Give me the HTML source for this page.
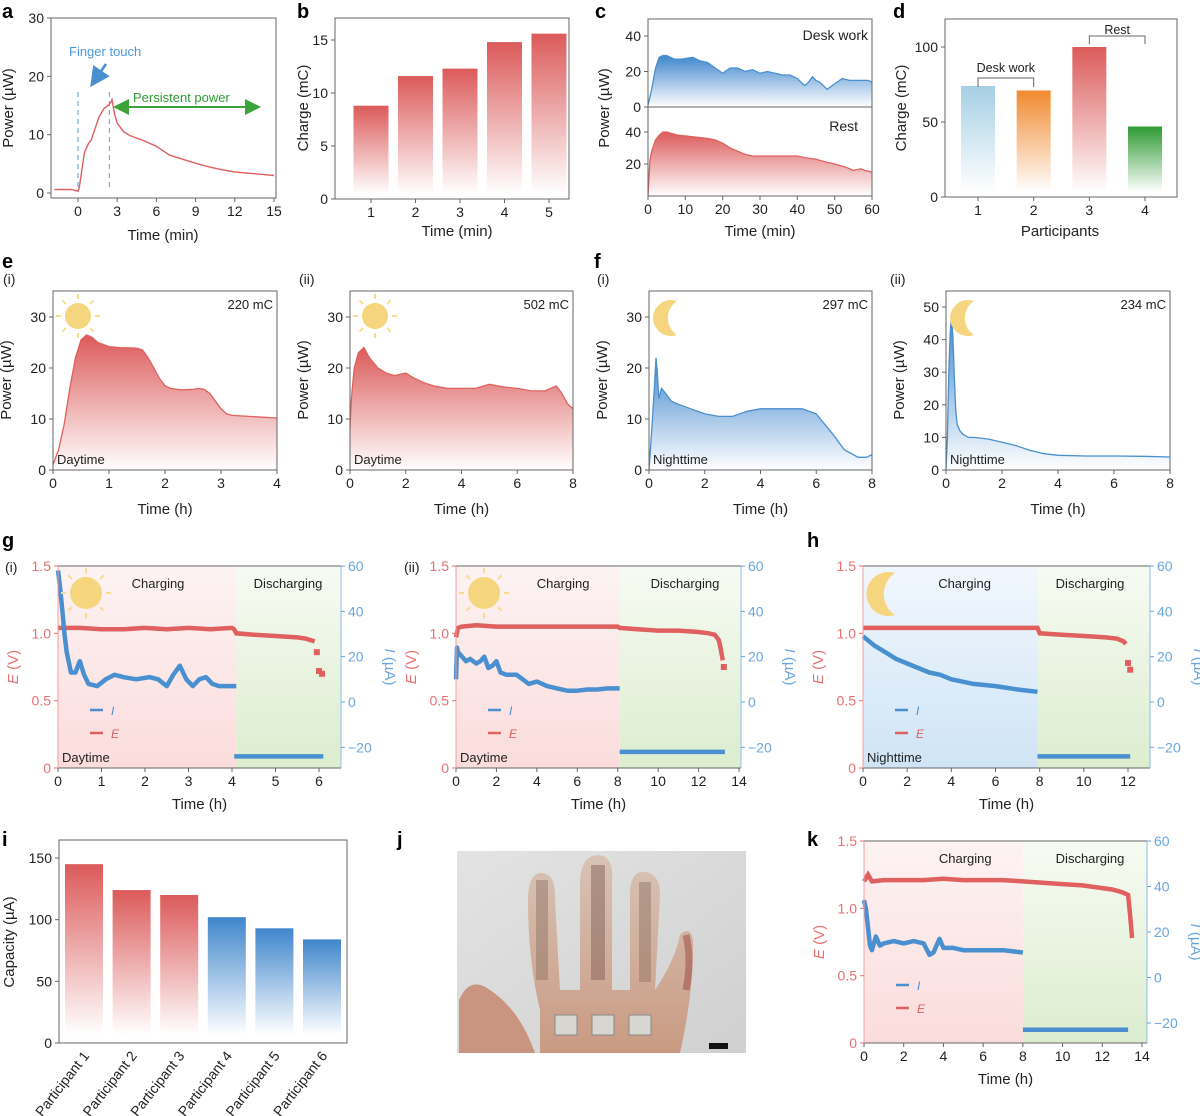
<!DOCTYPE html>
<html><head><meta charset="utf-8">
<style>
html,body{margin:0;padding:0;background:#fff;}
svg{display:block;font-family:"Liberation Sans",sans-serif;}
</style></head>
<body>
<svg id="fig" xmlns="http://www.w3.org/2000/svg" width="1200" height="1116" viewBox="0 0 1200 1116">
<defs>
<linearGradient id="gRed" x1="0" y1="0" x2="0" y2="1"><stop offset="0" stop-color="#dc5a5a"/><stop offset="1" stop-color="#dc5a5a" stop-opacity="0"/></linearGradient>
<linearGradient id="gBlue" x1="0" y1="0" x2="0" y2="1"><stop offset="0" stop-color="#3f86cc"/><stop offset="1" stop-color="#3f86cc" stop-opacity="0"/></linearGradient>
<linearGradient id="gLBlue" x1="0" y1="0" x2="0" y2="1"><stop offset="0" stop-color="#a6cfe5"/><stop offset="1" stop-color="#a6cfe5" stop-opacity="0"/></linearGradient>
<linearGradient id="gOrange" x1="0" y1="0" x2="0" y2="1"><stop offset="0" stop-color="#f08a30"/><stop offset="1" stop-color="#f08a30" stop-opacity="0"/></linearGradient>
<linearGradient id="gGreen" x1="0" y1="0" x2="0" y2="1"><stop offset="0" stop-color="#2f9a34"/><stop offset="1" stop-color="#2f9a34" stop-opacity="0"/></linearGradient>
<linearGradient id="shPink" x1="0" y1="0" x2="0" y2="1"><stop offset="0" stop-color="#fdf3f3"/><stop offset="1" stop-color="#fbdcdc"/></linearGradient>
<linearGradient id="shGreen" x1="0" y1="0" x2="0" y2="1"><stop offset="0" stop-color="#f7fbf3"/><stop offset="1" stop-color="#dcedcf"/></linearGradient>
<linearGradient id="shBlue" x1="0" y1="0" x2="0" y2="1"><stop offset="0" stop-color="#f1f7fd"/><stop offset="1" stop-color="#cfe4f6"/></linearGradient>
<linearGradient id="photoBg" x1="0" y1="0" x2="1" y2="1"><stop offset="0" stop-color="#e2e3e2"/><stop offset="1" stop-color="#cfd0cf"/></linearGradient>
<linearGradient id="skin" x1="0" y1="0" x2="0" y2="1"><stop offset="0" stop-color="#d8c3b6"/><stop offset="1" stop-color="#c99a82"/></linearGradient>
<marker id="arrG" markerWidth="8" markerHeight="8" refX="6" refY="4" orient="auto-start-reverse"><path d="M0,0 L8,4 L0,8 Z" fill="#3aa33a"/></marker>
<marker id="arrB" markerWidth="8" markerHeight="8" refX="6" refY="4" orient="auto"><path d="M0,0 L8,4 L0,8 Z" fill="#4a90d0"/></marker>
</defs>
</svg>
<script>
// ---------- data ----------
const aTime=[-1.8,-0.5,0,0.1,0.3,0.5,0.8,1,1.3,1.6,2,2.3,2.5,2.6,2.8,3,3.5,4,5,6,7,8,9,10,11,12,13,14,15];
const aPower=[0.6,0.6,0.3,1,4,7,8.5,9,11,13,14.5,15,15.5,16,13.5,12,10.5,9.8,9,8,6.5,5.8,5.1,4.5,4,3.6,3.4,3.2,3.0];
const bCats=[1,2,3,4,5];
const bCharge=[8.8,11.6,12.3,14.8,15.6];
const cTimeDesk=[0,1,2,3,4,5,7,9,12,14,16,18,20,22,24,26,28,30,32,34,36,38,40,42,43,44,45,46,48,50,52,54,56,58,59,60];
const cPowerDesk=[1,10,22,28,29,29,27,27,28,26,25,22,19,22,22,20,21,19,20,19,18,18,16,12,14,17,15,14,10,13,16,15,15,15,15,14];
const cTimeRest=[0,0.5,1,2,3,4,5,8,12,16,18,20,22,24,26,28,30,35,40,42,45,48,50,53,55,57,58,60];
const cPowerRest=[0,22,28,35,38,40,40,38,37,36,35,33,30,28,26,25,25,25,25,24,23,21,20,18,16,17,16,15];
const dCats=[1,2,3,4];
const dCharge=[74,71,100,47];
const e1Time=[0,0.1,0.2,0.3,0.4,0.5,0.6,0.7,0.8,1,1.2,1.5,1.6,1.7,1.8,1.9,2,2.1,2.3,2.5,2.6,2.7,2.8,2.9,3,3.1,3.2,3.5,4];
const e1Power=[1,4,9,16,22,25.5,26.5,26,25,24.2,24,23.9,23.5,22,20,18,16.5,16,15.7,15.8,16,15.8,15,13.5,12,11,10.7,10.5,10.2];
const e2Time=[0,0.05,0.15,0.3,0.5,0.7,1,1.3,1.6,2,2.3,2.7,3,3.5,4,4.5,5,5.5,6,6.5,7,7.2,7.4,7.6,7.8,8];
const e2Power=[8,14,20,23,24,22,20,19,18.5,19,18,17,16.5,16,16,16,16.8,16.3,16,15.5,15.5,16,16.5,15,13,12];
const f1Time=[0,0.1,0.2,0.25,0.3,0.35,0.45,0.6,0.8,1,1.5,2,2.5,3,3.5,4,5,5.5,6,6.3,6.6,7,7.5,7.8,8];
const f1Power=[0,8,17,22,19,14,16,15,13.5,13,12,11,10.5,10.5,11.5,12,12,12,11,9,7,4,2.5,2.5,3];
const f2Time=[0,0.05,0.1,0.15,0.2,0.25,0.3,0.35,0.4,0.5,0.6,0.8,1,1.5,2,2.5,3,3.5,4,5,6,7,8];
const f2Power=[0,10,30,42,48,40,28,18,14,12,11,10,10,9.5,8.5,7.5,6,5,4.5,4.3,4.3,4.2,4];
const g1ETime=[0,0.5,1,1.5,2,2.5,3,3.5,4,4.05,4.1,4.5,5,5.5,5.7,5.9];
const g1E=[1.04,1.04,1.03,1.03,1.04,1.03,1.04,1.03,1.04,1.03,1.0,0.99,0.98,0.97,0.96,0.94];
const g1EDotTime=[5.95,6.0,6.07];
const g1EDot=[0.86,0.72,0.70];
const g1ITime=[0,0.05,0.1,0.15,0.2,0.3,0.4,0.5,0.6,0.7,0.9,1.1,1.3,1.5,1.8,2.1,2.3,2.5,2.65,2.8,2.95,3.1,3.25,3.4,3.55,3.7,4,4.1];
const g1I=[58,50,40,30,22,13,13,18,12,8,7,10,12,11,10,11,10,7,12,16,10,7,10,11,8,7,7,7];
const g1DisTime=[4.05,6.1];
const g1DisI=[-24,-24];
const g2ETime=[0,0.1,0.3,1,2,3,4,5,6,7,8,8.1,9,10,11,12,12.5,12.8,13,13.1,13.2];
const g2E=[0.97,1.04,1.05,1.06,1.05,1.05,1.05,1.05,1.05,1.05,1.05,1.04,1.03,1.02,1.02,1.01,1.0,0.99,0.95,0.88,0.8];
const g2EDotTime=[13.25];
const g2EDot=[0.75];
const g2ITime=[0,0.05,0.1,0.3,0.5,0.7,1,1.2,1.4,1.6,1.8,2,2.2,2.5,3,3.3,3.6,4,4.5,5,5.5,6,6.5,7,7.5,8.1];
const g2I=[10,24,22,20,18,19,17,18,20,15,16,18,13,12,12,10,8,9,7,6,5,5,5.5,5.5,6,6];
const g2DisTime=[8.1,13.3];
const g2DisI=[-22,-22];
const hETime=[0,1,2,3,4,5,6,7,7.9,8,9,10,11,11.5,11.8,11.9];
const hE=[1.04,1.04,1.04,1.04,1.04,1.04,1.04,1.04,1.04,1.0,0.99,0.98,0.97,0.96,0.94,0.92];
const hEDotTime=[12,12.1];
const hEDot=[0.78,0.73];
const hITime=[0,0.5,1,1.5,2,2.5,3,3.5,4,5,6,7,7.9];
const hI=[29,25,22,19,17,15,13,12,10,8,7,5.5,4.5];
const hDisTime=[7.9,12.1];
const hDisI=[-24,-24];
const kETime=[0,0.2,0.4,1,2,3,4,5,6,7,8,9,10,11,12,12.5,13,13.3,13.4,13.5];
const kE=[1.2,1.25,1.2,1.21,1.21,1.21,1.22,1.21,1.21,1.21,1.2,1.19,1.18,1.17,1.15,1.14,1.12,1.1,0.95,0.78];
const kITime=[0,0.1,0.2,0.3,0.4,0.6,0.8,1,1.5,2,2.5,3,3.3,3.5,3.8,4,4.5,5,6,7,8];
const kI=[34,30,22,14,12,18,14,15,16,15,16,15,10,11,17,13,13,12,12,12,11];
const kDisTime=[8,13.3];
const kDisI=[-23,-23];
const iCats=["Participant 1","Participant 2","Participant 3","Participant 4","Participant 5","Participant 6"];
const iCapacity=[145,124,120,102,93,84];

// ---------- helpers ----------
const NS='http://www.w3.org/2000/svg';
const svg=document.getElementById('fig');
function mk(tag,attrs,name,parent){
  const e=document.createElementNS(NS,tag);
  for(const k in attrs) e.setAttribute(k,attrs[k]);
  
  
  (parent||svg).appendChild(e);
  return e;
}
function lin(v0,p0,v1,p1){const k=(p1-p0)/(v1-v0);return v=>p0+(v-v0)*k;}
function T(x,y,s,o,name){
  o=o||{};
  const a={x:x,y:y,'font-size':o.size||14,fill:o.fill||'#222','text-anchor':o.anchor||'start'};
  if(o.weight)a['font-weight']=o.weight;
  if(o.style)a['font-style']=o.style;
  if(o.rot!==undefined)a.transform='rotate('+o.rot+' '+x+' '+y+')';
  const e=mk('text',a,name);
  e.textContent=s;
  return e;
}
function box(L,Tp,R,B,name,stroke){
  return mk('rect',{x:L,y:Tp,width:R-L,height:B-Tp,fill:'none',stroke:stroke||'#666','stroke-width':1},name);
}
function xTicks(vals,sx,B,labels,name,col){
  vals.forEach((v,i)=>{
    mk('line',{x1:sx(v),x2:sx(v),y1:B,y2:B+4,stroke:'#666'},name+'-tick');
    T(sx(v),B+18,labels?labels[i]:String(v),{anchor:'middle',fill:col||'#222'},name+'-label');
  });
}
function yTicks(vals,sy,L,labels,name,col){
  vals.forEach((v,i)=>{
    mk('line',{x1:L-4,x2:L,y1:sy(v),y2:sy(v),stroke:col||'#666'},name+'-tick');
    T(L-7,sy(v)+5,labels?labels[i]:String(v),{anchor:'end',fill:col||'#222'},name+'-label');
  });
}
function yTicksR(vals,sy,R,labels,name,col){
  vals.forEach((v,i)=>{
    mk('line',{x1:R,x2:R+4,y1:sy(v),y2:sy(v),stroke:col},name+'-tick');
    T(R+7,sy(v)+5,labels?labels[i]:String(v),{anchor:'start',fill:col},name+'-label');
  });
}
function linePath(xs,ys,sx,sy){return xs.map((x,i)=>(i?'L':'M')+sx(x).toFixed(1)+','+sy(ys[i]).toFixed(1)).join(' ');}
function area(xs,ys,sx,sy,fill,stroke,name){
  const d=linePath(xs,ys,sx,sy)+' L'+sx(xs[xs.length-1])+','+sy(0)+' L'+sx(xs[0])+','+sy(0)+' Z';
  mk('path',{d:d,fill:fill,stroke:'none'},name+'-area');
  mk('path',{d:linePath(xs,ys,sx,sy),fill:'none',stroke:stroke,'stroke-width':1.3},name+'-line');
}
function sun(cx,cy,r,name){
  const g=mk('g',{},name);
  mk('circle',{cx:cx,cy:cy,r:r,fill:'#f5d67e'},name+'-disc',g);
  for(let k=0;k<8;k++){
    const a=k*Math.PI/4;
    mk('line',{x1:cx+Math.cos(a)*(r+4),y1:cy+Math.sin(a)*(r+4),x2:cx+Math.cos(a)*(r+9),y2:cy+Math.sin(a)*(r+9),stroke:'#f7dc8e','stroke-width':2},name+'-ray',g);
  }
}
function moon(cx,cy,r,name){
  const d='M'+(cx+6)+','+(cy-r)+' A'+(r+1)+','+(r+1)+' 0 1 0 '+(cx+6)+','+(cy+r)+' A'+(r*1.2)+','+(r*1.2)+' 0 0 1 '+(cx+6)+','+(cy-r)+' Z';
  mk('path',{d:d,fill:'#f5d67e'},name);
}
function letter(x,y,s){T(x,y,s,{size:20,weight:'bold',fill:'#000'},'panel-label-'+s);}

// ---------- panel a ----------
letter(2,18,'a');
{
  const sx=lin(0,78,15,274), sy=lin(0,193,30,18);
  box(51,18,276,198,'panel-a-frame');
  xTicks([0,3,6,9,12,15],sx,198,null,'a-x');
  yTicks([0,10,20,30],sy,51,null,'a-y');
  T(163,240,'Time (min)',{anchor:'middle',size:15},'a-x-title');
  T(13,108,'Power (µW)',{anchor:'middle',size:15,rot:-90},'a-y-title');
  mk('line',{x1:sx(0),x2:sx(0),y1:92,y2:190,stroke:'#5a9fd8','stroke-dasharray':'5,4'},'a-touch-start-line');
  mk('line',{x1:sx(2.4),x2:sx(2.4),y1:92,y2:190,stroke:'#5a9fd8','stroke-dasharray':'5,4'},'a-touch-end-line');
  mk('path',{d:linePath(aTime,aPower,sx,sy),fill:'none',stroke:'#e06060','stroke-width':1.4},'a-power-line');
  T(69,56,'Finger touch',{fill:'#4a9ae0',size:13},'a-finger-touch-label');
  mk('line',{x1:106,y1:64,x2:93,y2:83,stroke:'#4a90d0','stroke-width':2.5,'marker-end':'url(#arrB)'},'a-finger-arrow');
  T(133,102,'Persistent power',{fill:'#2f9a34',size:13},'a-persistent-label');
  mk('line',{x1:117,y1:107,x2:257,y2:107,stroke:'#3aa33a','stroke-width':2,'marker-start':'url(#arrG)','marker-end':'url(#arrG)'},'a-persistent-arrow');
}
// ---------- panel b ----------
letter(297,18,'b');
{
  const sx=lin(1,371,5,549), sy=lin(0,199,15,40);
  bCats.forEach((c,i)=>{
    mk('rect',{x:sx(c)-17.5,y:sy(bCharge[i]),width:35,height:sy(0)-5-sy(bCharge[i]),fill:'url(#gRed)'},'b-bar-'+c);
  });
  box(335,18,569,199,'panel-b-frame');
  xTicks(bCats,sx,199,null,'b-x');
  yTicks([0,5,10,15],sy,335,null,'b-y');
  T(457,236,'Time (min)',{anchor:'middle',size:15},'b-x-title');
  T(308,108,'Charge (mC)',{anchor:'middle',size:15,rot:-90},'b-y-title');
}
// ---------- panel c ----------
letter(595,18,'c');
{
  const sx=lin(0,648,60,872), sy1=lin(0,107,40,36), sy2=lin(0,196,40,132);
  area(cTimeDesk,cPowerDesk,sx,sy1,'url(#gBlue)','#4a8fd0','c-desk');
  area(cTimeRest,cPowerRest,sx,sy2,'url(#gRed)','#e06060','c-rest');
  box(648,19,872,107,'panel-c-top-frame');
  box(648,107,872,196,'panel-c-bottom-frame');
  yTicks([0,20,40],sy1,648,null,'c-top-y');
  yTicks([20,40],sy2,648,null,'c-bottom-y');
  xTicks([0,10,20,30,40,50,60],sx,196,null,'c-x');
  T(760,236,'Time (min)',{anchor:'middle',size:15},'c-x-title');
  T(609,108,'Power (µW)',{anchor:'middle',size:15,rot:-90},'c-y-title');
  T(868,40,'Desk work',{anchor:'end',size:14},'c-desk-label');
  T(858,131,'Rest',{anchor:'end',size:14},'c-rest-label');
}
// ---------- panel d ----------
letter(893,18,'d');
{
  const sx=lin(1,978,4,1145), sy=lin(0,197,100,47);
  const fills=['url(#gLBlue)','url(#gOrange)','url(#gRed)','url(#gGreen)'];
  dCats.forEach((c,i)=>{
    mk('rect',{x:sx(c)-17,y:sy(dCharge[i]),width:34,height:sy(0)-5-sy(dCharge[i]),fill:fills[i]},'d-bar-'+c);
  });
  box(945,19,1177,197,'panel-d-frame');
  xTicks(dCats,sx,197,null,'d-x');
  yTicks([0,50,100],sy,945,null,'d-y');
  T(1060,236,'Participants',{anchor:'middle',size:15},'d-x-title');
  T(906,108,'Charge (mC)',{anchor:'middle',size:15,rot:-90},'d-y-title');
  mk('path',{d:'M'+sx(1)+',87 V78 H'+sx(2)+' V87',fill:'none',stroke:'#666'},'d-desk-bracket');
  T((sx(1)+sx(2))/2,72,'Desk work',{anchor:'middle',size:12.5},'d-desk-label');
  mk('path',{d:'M'+sx(3)+',44 V36 H'+sx(4)+' V44',fill:'none',stroke:'#666'},'d-rest-bracket');
  T((sx(3)+sx(4))/2,34,'Rest',{anchor:'middle',size:12.5},'d-rest-label');
}
// ---------- panels e / f ----------
function powerPanel(o){
  const sx=lin(0,o.L,o.xmax,o.R), sy=lin(0,470,o.ytop,o.ytopPx);
  area(o.t,o.p,sx,sy,o.fill,o.stroke,o.name);
  box(o.L,291,o.R,470,o.name+'-frame');
  xTicks(o.xt,sx,470,null,o.name+'-x');
  yTicks(o.yt,sy,o.L,null,o.name+'-y');
  T((o.L+o.R)/2,514,'Time (h)',{anchor:'middle',size:15},o.name+'-x-title');
  T(o.L-42,380,'Power (µW)',{anchor:'middle',size:15,rot:-90},o.name+'-y-title');
  T(o.R-4,309,o.total,{anchor:'end',size:13},o.name+'-total');
  T(o.L+4,464,o.tag,{size:13},o.name+'-period');
  if(o.icon==='sun')sun(o.L+25,316,13,o.name+'-sun-icon');else moon(o.L+22,318,17,o.name+'-moon-icon');
}
letter(2,268,'e');
T(3,284,'(i)',{size:14},'e-i-label');
T(299,284,'(ii)',{size:14},'e-ii-label');
powerPanel({name:'e-i',L:53,R:277,xmax:4,ytop:30,ytopPx:317,t:e1Time,p:e1Power,fill:'url(#gRed)',stroke:'#e06060',xt:[0,1,2,3,4],yt:[0,10,20,30],total:'220 mC',tag:'Daytime',icon:'sun'});
powerPanel({name:'e-ii',L:350,R:573,xmax:8,ytop:30,ytopPx:317,t:e2Time,p:e2Power,fill:'url(#gRed)',stroke:'#e06060',xt:[0,2,4,6,8],yt:[0,10,20,30],total:'502 mC',tag:'Daytime',icon:'sun'});
letter(594,268,'f');
T(597,284,'(i)',{size:14},'f-i-label');
T(890,284,'(ii)',{size:14},'f-ii-label');
powerPanel({name:'f-i',L:649,R:872,xmax:8,ytop:30,ytopPx:317,t:f1Time,p:f1Power,fill:'url(#gBlue)',stroke:'#4a8fd0',xt:[0,2,4,6,8],yt:[0,10,20,30],total:'297 mC',tag:'Nighttime',icon:'moon'});
powerPanel({name:'f-ii',L:946,R:1170,xmax:8,ytop:50,ytopPx:307,t:f2Time,p:f2Power,fill:'url(#gBlue)',stroke:'#4a8fd0',xt:[0,2,4,6,8],yt:[0,10,20,30,40,50],total:'234 mC',tag:'Nighttime',icon:'moon'});

// ---------- panels g / h / k ----------
function ePanel(o){
  const sx=lin(0,o.L,o.x1,o.x1px), sE=lin(0,o.B,1.5,o.T), sI=lin(0,o.I0,60,o.T);
  mk('rect',{x:o.L,y:o.T,width:sx(o.split)-o.L,height:o.B-o.T,fill:o.chShade},o.name+'-charging-region');
  mk('rect',{x:sx(o.split),y:o.T,width:o.R-sx(o.split),height:o.B-o.T,fill:'url(#shGreen)'},o.name+'-discharging-region');
  mk('path',{d:linePath(o.eT,o.e,sx,sE),fill:'none',stroke:'#e06060','stroke-width':4.5},o.name+'-E-series');
  o.dT.forEach((t,i)=>{
    mk('rect',{x:sx(t)-3,y:sE(o.d[i])-3,width:6,height:6,fill:'#e06060'},o.name+'-E-point');
  });
  mk('path',{d:linePath(o.iT,o.i,sx,sI),fill:'none',stroke:'#4a90d0','stroke-width':4.5,'stroke-linejoin':'round'},o.name+'-I-charging');
  mk('path',{d:linePath(o.disT,o.disI,sx,sI),fill:'none',stroke:'#4a90d0','stroke-width':4.5},o.name+'-I-discharging');
  mk('line',{x1:o.L,x2:o.R,y1:o.T,y2:o.T,stroke:'#666'},o.name+'-top-spine');
  mk('line',{x1:o.L,x2:o.R,y1:o.B,y2:o.B,stroke:'#666'},o.name+'-bottom-spine');
  mk('line',{x1:o.L,x2:o.L,y1:o.T,y2:o.B,stroke:'#f0a0a0'},o.name+'-left-spine');
  mk('line',{x1:o.R,x2:o.R,y1:o.T,y2:o.B,stroke:'#8fbde6'},o.name+'-right-spine');
  xTicks(o.xt,sx,o.B,null,o.name+'-x');
  yTicks([0,0.5,1.0,1.5],sE,o.L,['0','0.5','1.0','1.5'],o.name+'-E-axis','#e87070');
  yTicksR([-20,0,20,40,60],sI,o.R,['−20','0','20','40','60'],o.name+'-I-axis','#6aa6dc');
  T((o.L+o.R)/2,o.B+41,'Time (h)',{anchor:'middle',size:15},o.name+'-x-title');
  const ey=(o.T+o.B)/2;
  const et=T(o.L-40,ey,'',{anchor:'middle',size:15,rot:-90,fill:'#e87070'},o.name+'-E-title');
  et.innerHTML='<tspan font-style="italic">E</tspan> (V)';
  const it=T(o.R+44,ey,'',{anchor:'middle',size:15,rot:90,fill:'#6aa6dc'},o.name+'-I-title');
  it.innerHTML='<tspan font-style="italic">I</tspan> (µA)';
  T(sx(o.chargeX),o.T+22,'Charging',{anchor:'middle',size:13},o.name+'-charging-label');
  T(o.dischX,o.T+22,'Discharging',{anchor:'middle',size:13},o.name+'-discharging-label');
  if(o.tag)T(o.L+4,o.B-6,o.tag,{size:13},o.name+'-period');
  mk('line',{x1:o.L+32,x2:o.L+45,y1:o.B-58,y2:o.B-58,stroke:'#4a90d0','stroke-width':2.5},o.name+'-legend-I-swatch');
  T(o.L+53,o.B-53,'I',{size:12,style:'italic',fill:'#4a90d0'},o.name+'-legend-I');
  mk('line',{x1:o.L+32,x2:o.L+45,y1:o.B-35,y2:o.B-35,stroke:'#e06060','stroke-width':2.5},o.name+'-legend-E-swatch');
  T(o.L+53,o.B-30,'E',{size:12,style:'italic',fill:'#e06060'},o.name+'-legend-E');
  if(o.icon==='sun')sun(o.L+28,o.T+27,16,o.name+'-sun-icon');
  if(o.icon==='moon')moon(o.L+26,o.T+28,21,o.name+'-moon-icon');
}
letter(2,547,'g');
T(5,572,'(i)',{size:14},'g-i-label');
T(404,572,'(ii)',{size:14},'g-ii-label');
ePanel({name:'g-i',L:58,R:341,T:566,B:768,I0:702,x1:6,x1px:319,split:4.1,chShade:'url(#shPink)',eT:g1ETime,e:g1E,dT:g1EDotTime,d:g1EDot,iT:g1ITime,i:g1I,disT:g1DisTime,disI:g1DisI,xt:[0,1,2,3,4,5,6],chargeX:2.3,dischX:288,tag:'Daytime',icon:'sun'});
ePanel({name:'g-ii',L:456,R:741,T:566,B:768,I0:702,x1:14,x1px:739,split:8.1,chShade:'url(#shPink)',eT:g2ETime,e:g2E,dT:g2EDotTime,d:g2EDot,iT:g2ITime,i:g2I,disT:g2DisTime,disI:g2DisI,xt:[0,2,4,6,8,10,12,14],chargeX:5.3,dischX:685,tag:'Daytime',icon:'sun'});
letter(807,547,'h');
ePanel({name:'h',L:863,R:1150,T:566,B:768,I0:702,x1:12,x1px:1128,split:7.9,chShade:'url(#shBlue)',eT:hETime,e:hE,dT:hEDotTime,d:hEDot,iT:hITime,i:hI,disT:hDisTime,disI:hDisI,xt:[0,2,4,6,8,10,12],chargeX:4.6,dischX:1090,tag:'Nighttime',icon:'moon'});
letter(807,846,'k');
ePanel({name:'k',L:864,R:1147,T:841,B:1043,I0:977.5,x1:14,x1px:1142,split:8,chShade:'url(#shPink)',eT:kETime,e:kE,dT:[],d:[],iT:kITime,i:kI,disT:kDisTime,disI:kDisI,xt:[0,2,4,6,8,10,12,14],chargeX:5.1,dischX:1090,tag:'',icon:''});

// ---------- panel i ----------
letter(2,846,'i');
{
  const sy=lin(0,1043,150,858);
  const cx=i=>84+i*47.6;
  iCats.forEach((c,i)=>{
    mk('rect',{x:cx(i)-19,y:sy(iCapacity[i]),width:38,height:sy(0)-8-sy(iCapacity[i]),fill:i<3?'url(#gRed)':'url(#gBlue)'},'i-bar-'+(i+1));
  });
  box(59,840,347,1043,'panel-i-frame');
  yTicks([0,50,100,150],sy,59,null,'i-y');
  iCats.forEach((c,i)=>{
    mk('line',{x1:cx(i),x2:cx(i),y1:1043,y2:1047},'i-x-tick');
    T(cx(i)+6,1056,c,{anchor:'end',size:14,rot:-52},'i-x-label');
  });
  T(14,942,'Capacity (µA)',{anchor:'middle',size:15,rot:-90},'i-y-title');
}
// ---------- panel j (photo) ----------
letter(397,846,'j');
{
  const g=mk('g',{},'j-hand-photo');
  mk('rect',{x:457,y:851,width:289,height:202,fill:'url(#photoBg)'},'j-photo-background',g);
  mk('path',{d:'M459,1000 Q470,975 490,990 Q520,1010 535,1053 L459,1053 Z',fill:'#c99580'},'j-thumb',g);
  mk('path',{d:'M540,1053 L540,1010 Q528,960 528,900 Q528,875 540,873 Q556,872 555,900 L560,990 L580,990 L580,880 Q582,855 598,855 Q614,856 612,880 L612,990 L630,990 L630,890 Q632,870 645,872 Q660,874 660,895 L655,990 Q675,960 680,935 Q690,925 693,940 Q694,990 680,1053 Z',fill:'url(#skin)'},'j-hand',g);
  mk('rect',{x:536,y:880,width:12,height:100,fill:'#8a6e62',opacity:0.45},'j-device-finger-1',g);
  mk('rect',{x:591,y:865,width:14,height:115,fill:'#7a5852',opacity:0.45},'j-device-finger-2',g);
  mk('rect',{x:639,y:882,width:12,height:100,fill:'#8a6e62',opacity:0.45},'j-device-finger-3',g);
  mk('path',{d:'M686,935 Q692,960 686,990',stroke:'#a0564e','stroke-width':7,fill:'none',opacity:0.6},'j-pinky-shade',g);
  [566,603,640].forEach(x=>{
    mk('rect',{x:x-11,y:1015,width:22,height:20,fill:'#d8d6d0',stroke:'#888'},'j-battery-cell',g);
  });
  mk('rect',{x:709,y:1043,width:19,height:6,fill:'#111'},'j-scale-bar',g);
}
</script>
</body></html>
